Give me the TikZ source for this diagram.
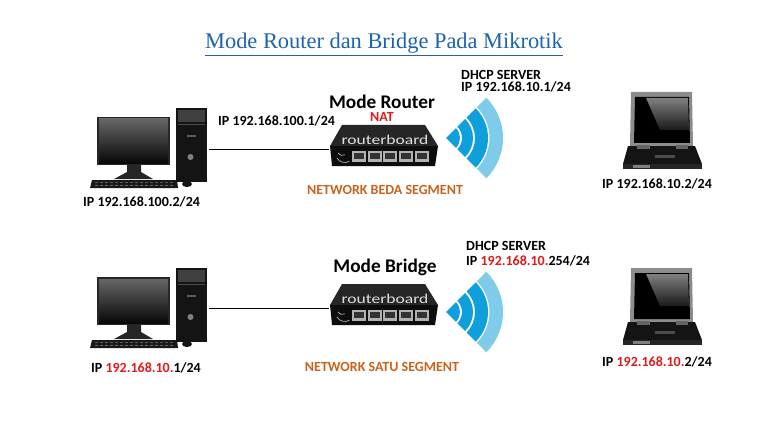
\documentclass[tikz,border=0pt]{standalone}
\usepackage{fontspec}
\setmainfont{Carlito}[BoldFont=Carlito Bold]
\newfontfamily\titlefont{Liberation Serif}
\definecolor{wifidark}{HTML}{0F9FDC}
\definecolor{wifilight}{HTML}{7FCBEA}
\definecolor{titleblue}{HTML}{1D63B0}
\definecolor{segorange}{HTML}{C8641E}
\definecolor{ipred}{HTML}{E01B1B}
\tikzset{
  x=1pt,y=-1pt,
  lab/.style={font=\bfseries\fontsize{14}{14}\selectfont,inner sep=0pt,text=black},
  modelab/.style={font=\bfseries\fontsize{19.3}{19.3}\selectfont,inner sep=0pt},
  seglab/.style={font=\bfseries\fontsize{14}{14}\selectfont,inner sep=0pt,text=segorange},
  link/.style={draw=black,line width=0.7pt},
  anchorbox/.style={inner sep=0pt,minimum width=1pt,minimum height=1pt},
  pcicon/.pic={
    \fill[black!85] (97,117) rectangle (170,165);
    \shade[top color=black!60,bottom color=black!97] (99,119) rectangle (168,163);
    \fill[black!85] (127,165) -- (141,165) -- (141,172) -- (153,179) -- (114,179) -- (127,172) -- cycle;
    \fill[black!90] (92,180) -- (177,180) -- (178,188) -- (90,188) -- cycle;
    \foreach \kx in {95,100,...,170}{\fill[black!65] (\kx,182) rectangle +(3,1.4);\fill[black!60] (\kx,185) rectangle +(3,1.2);}
    \fill[black!92] (176,108) rectangle (207,182);
    \fill[black!75] (178,110) rectangle (205,122);
    \fill[black!70] (178,124) rectangle (205,125);
    \fill[black!65] (187,135) rectangle (196,137);
    \fill[black!50] (190.5,157) circle (3);
    \fill[black!92] (187,184) ellipse (5 and 3);
  },
  routericon/.pic={
    \fill[black!85] (342,125) -- (425,125) -- (438,146) -- (330,146) -- cycle;
    \fill[black!95] (330,146) -- (438,146) -- (435,166) -- (332,166) -- cycle;
    \foreach \px in {352,368,383,399,415}{
      \fill[black!30] (\px,151) rectangle +(14,11);
      \fill[black!80] (\px+2,153) rectangle +(10,6);
    }
    \draw[white!70!black,line width=0.7pt] (338,153) arc[start angle=150,end angle=60,radius=5];
    \draw[white!70!black,line width=0.7pt] (337,158) arc[start angle=150,end angle=60,radius=9];
    \node[anchorbox,text=black!12,font=\fontsize{13.5}{13.5}\selectfont,xscale=1.3,transform shape] at (385,140) {routerboard};
  },
  wifiicon/.pic={
    \fill[wifidark] (0,0) -- (45:14) arc[start angle=45,end angle=-45,radius=14] -- cycle;
    \foreach \ri/\ro/\col in {16/27/wifidark,29/42/wifidark,43.5/57/wifilight}{
      \fill[\col] (45:\ri) arc[start angle=45,end angle=-45,radius=\ri] -- (-45:\ro) arc[start angle=-45,end angle=45,radius=\ro] -- cycle;
    }
  },
  laptopicon/.pic={
    \fill[black!45] (631,92) -- (692,92) -- (693,146) -- (630,146) -- cycle;
    \fill[black] (635,97) -- (689,97) -- (690,143) -- (634,143) -- cycle;
    \shade[top color=black!50,bottom color=black!90] (646,98) -- (688,98) -- (689,130) -- (660,130) -- cycle;
    \fill[black!92] (628,146) -- (695,146) -- (702,164) -- (623,164) -- cycle;
    \fill[black!60] (637,145) rectangle (650,149);
    \fill[black!60] (676,145) rectangle (688,149);
    \fill[black!85] (623,164) rectangle (702,169);
    \fill[black!50] (633,164.5) rectangle (650,167.5);
    \fill[black!70] (655,155) rectangle (675,158);
  }
}
\begin{document}
\begin{tikzpicture}
\useasboundingbox (0,0) rectangle (768,433);
\fill[white] (0,0) rectangle (768,433);
\node[inner sep=0pt,text=titleblue,font=\titlefont\fontsize{22.4}{22.4}\selectfont] (title) at (384,44.5) {\underline{Mode Router dan Bridge Pada Mikrotik}};

% top row
\pic at (0,0) {pcicon};
\pic at (0,0) {routericon};
\pic at (446,138) {wifiicon};
\pic at (0,0) {laptopicon};
\node[anchorbox] (pcA) at (208,149) {};
\node[anchorbox] (rtA) at (330,149) {};
\draw[link] (pcA) -- (rtA);
\node[lab,anchor=west] (ipA) at (218,121) {IP 192.168.100.1/24};
\node[lab,anchor=west] (hostA) at (83,202) {IP 192.168.100.2/24};
\node[modelab] (modeA) at (382,102) {Mode Router};
\node[lab,text=ipred] (nat) at (382,116.5) {NAT};
\node[seglab] (segA) at (385,190) {NETWORK BEDA SEGMENT};
\node[lab,anchor=west] (dhcpA) at (461,75) {DHCP SERVER};
\node[lab,anchor=west] (dhcpipA) at (461,87) {IP 192.168.10.1/24};
\node[lab,anchor=west] (lapA) at (602,184) {IP 192.168.10.2/24};

% bottom row
\begin{scope}[yshift=-160pt]
\pic at (0,0) {pcicon};
\end{scope}
\begin{scope}[yshift=-159pt]
\pic at (0,0) {routericon};
\end{scope}
\pic at (446,312) {wifiicon};
\begin{scope}[yshift=-176pt]
\pic at (0,0) {laptopicon};
\end{scope}
\node[anchorbox] (pcB) at (208,308) {};
\node[anchorbox] (rtB) at (330,308) {};
\draw[link] (pcB) -- (rtB);
\node[lab,anchor=west] (hostB) at (91,368) {IP \textcolor{ipred}{192.168.10.}1/24};
\node[modelab] (modeB) at (385,267) {Mode Bridge};
\node[seglab] (segB) at (382,367) {NETWORK SATU SEGMENT};
\node[lab,anchor=west] (dhcpB) at (466,246) {DHCP SERVER};
\node[lab,anchor=west] (dhcpipB) at (466,261) {IP \textcolor{ipred}{192.168.10.}254/24};
\node[lab,anchor=west] (lapB) at (602,362) {IP \textcolor{ipred}{192.168.10.}2/24};
\end{tikzpicture}
\end{document}
